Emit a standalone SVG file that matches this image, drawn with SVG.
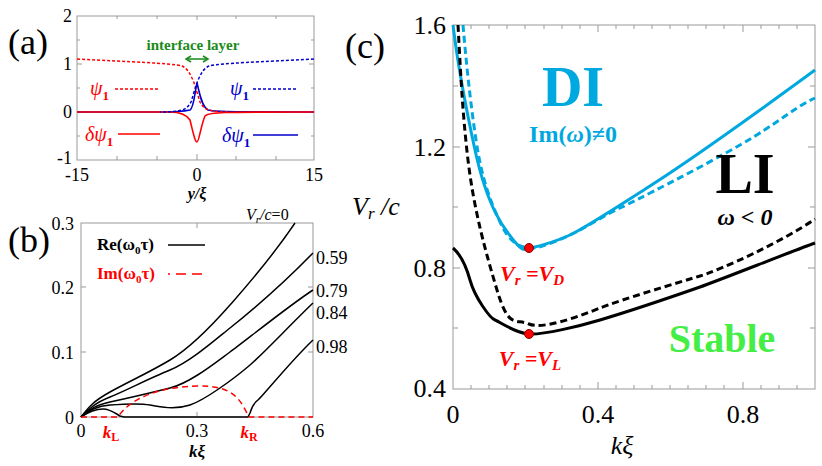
<svg xmlns="http://www.w3.org/2000/svg" width="822" height="466" viewBox="0 0 822 466" font-family="Liberation Serif, Times New Roman, DejaVu Serif, serif">
<style>
text{font-family:"Liberation Serif","Times New Roman","DejaVu Serif",serif}
.fr{fill:none;stroke:#999;stroke-width:1}
.tk{stroke:#999;stroke-width:1}
.t{font-size:18px;fill:#000}
.tc{font-size:26px;fill:#000}
.c{fill:none;stroke-linejoin:round;stroke-linecap:butt}
</style>
<rect width="822" height="466" fill="#fff"/>
<g id="panel-a">
<rect class="fr" x="77" y="16" width="237" height="144"/>
<path class="tk" d="M77,64h5M77,112h5M77,136h3M77,88h3M77,40h3M314,64h-5M314,112h-5M314,40h-3M314,88h-3M314,136h-3M117,160v-4M157,160v-4M197,160v-6M236,160v-4M276,160v-4M197,16v4M117,16v3M157,16v3M236,16v3M276,16v3"/>
<text class="t" x="72" y="22" text-anchor="end">2</text>
<text class="t" x="72" y="70" text-anchor="end">1</text>
<text class="t" x="72" y="118" text-anchor="end">0</text>
<text class="t" x="72" y="164" text-anchor="end">-1</text>
<text class="t" x="77" y="181" text-anchor="middle">-15</text>
<text class="t" x="197" y="181" text-anchor="middle">0</text>
<text class="t" x="314" y="181" text-anchor="middle">15</text>
<text x="197" y="199" font-size="16" font-style="italic" font-weight="bold" text-anchor="middle">y/ξ</text>
<text x="8" y="54" font-size="36">(a)</text>
<text x="193" y="50" font-size="15" font-weight="bold" fill="#1a8a1a" text-anchor="middle">interface layer</text>
<path d="M187,59h20" stroke="#1a8a1a" stroke-width="1.5"/>
<path d="M191,56l-5,3l5,3M203,56l5,3l-5,3" fill="none" stroke="#1a8a1a" stroke-width="1.5"/>
<path class="c" d="M77,112H165C178,112 185,111 190,110C194,108 195,90 197,83C199,90 201,106 208,110C216,112 240,112 314,112" stroke="#0000cc" stroke-width="1.6"/>
<path class="c" d="M77,112H170C180,112 186,114 190,120C193,132 195,142 197,142C199,142 201,125 205,116C209,112 220,112 314,112" stroke="#ff0000" stroke-width="1.6"/>
<path class="c" d="M77,59C130,62 170,63 182,66C192,70 196,90 200,102C204,110 210,112 230,112" stroke="#ff0000" stroke-width="1.5" stroke-dasharray="3,2"/>
<path class="c" d="M314,59C261,62 221,63 209,66C199,70 195,90 191,102C187,110 181,112 160,112" stroke="#0000cc" stroke-width="1.5" stroke-dasharray="3,2"/>
<text x="90" y="95" font-size="20" font-style="italic" fill="#ff0000">ψ<tspan font-size="13" font-style="normal" font-weight="bold" dy="5">1</tspan></text>
<path d="M115,89h45" stroke="#ff0000" stroke-width="1.5" stroke-dasharray="3,2"/>
<text x="85" y="141" font-size="20" font-style="italic" fill="#ff0000">δψ<tspan font-size="13" font-style="normal" font-weight="bold" dy="5">1</tspan></text>
<path d="M118,134h42" stroke="#ff0000" stroke-width="1.5"/>
<text x="230" y="95" font-size="20" font-style="italic" fill="#0000cc">ψ<tspan font-size="13" font-style="normal" font-weight="bold" dy="5">1</tspan></text>
<path d="M253,89h45" stroke="#0000cc" stroke-width="1.5" stroke-dasharray="3,2"/>
<text x="222" y="142" font-size="20" font-style="italic" fill="#0000cc">δψ<tspan font-size="13" font-style="normal" font-weight="bold" dy="5">1</tspan></text>
<path d="M253,135h45" stroke="#0000cc" stroke-width="1.5"/>
</g>
<g id="panel-b">
<rect class="fr" x="81" y="223" width="232" height="194"/>
<path class="tk" d="M81,352h5M81,287h5M313,352h-5M313,287h-5M197,417v-5M197,223v5"/>
<text class="t" x="74" y="230" text-anchor="end">0.3</text>
<text class="t" x="74" y="294" text-anchor="end">0.2</text>
<text class="t" x="74" y="359" text-anchor="end">0.1</text>
<text class="t" x="74" y="424" text-anchor="end">0</text>
<text class="t" x="81" y="437" text-anchor="middle">0</text>
<text class="t" x="197" y="437" text-anchor="middle">0.3</text>
<text class="t" x="313" y="437" text-anchor="middle">0.6</text>
<text x="111" y="438" font-size="17" font-weight="bold" font-style="italic" fill="#ff0000" text-anchor="middle">k<tspan font-size="12" font-style="normal" dy="3">L</tspan></text>
<text x="249" y="438" font-size="17" font-weight="bold" font-style="italic" fill="#ff0000" text-anchor="middle">k<tspan font-size="12" font-style="normal" dy="3">R</tspan></text>
<text x="197" y="457" font-size="17" font-weight="bold" font-style="italic" text-anchor="middle">kξ</text>
<text x="8" y="252" font-size="36">(b)</text>
<text x="97" y="250" font-size="17" font-weight="bold">Re(ω<tspan font-size="11" dy="4">0</tspan><tspan dy="-4">τ)</tspan></text>
<path d="M168,245h37" stroke="#000" stroke-width="1.5"/>
<text x="97" y="279" font-size="17" font-weight="bold" fill="#ff0000">Im(ω<tspan font-size="11" dy="4">0</tspan><tspan dy="-4">τ)</tspan></text>
<path d="M168,274h2M176,274h10M192,274h10" stroke="#ff0000" stroke-width="1.5"/>
<g class="c" stroke="#000" stroke-width="1.5">
<path d="M81,417C88,408 92,402 110,392S150,372 170,360S215,322 230,305S270,260 295,223"/>
<path d="M81,417C90,408 95,403 110,397S150,378 170,370S215,340 230,328S275,292 313,253"/>
<path d="M81,417C90,409 96,405 110,402S150,393 170,388S215,363 230,352S290,305 313,290"/>
<path d="M81,417C90,410 97,406 110,405S140,403 150,405S175,410 190,405S235,378 250,365S290,325 313,303"/>
<path d="M81,417C90,411 96,409 103,409S115,413 120,416L124,417H248L250,413C252,406 254,403 258,400S290,362 313,340"/>
</g>
<path class="c" d="M81,417H118C130,398 160,387 197,386S240,400 248,415L249,417H313" stroke="#ff0000" stroke-width="1.5" stroke-dasharray="6,4"/>
<text x="246" y="220" font-size="16"><tspan font-style="italic">V<tspan font-size="11" dy="3">r</tspan><tspan dy="-3">/c</tspan></tspan>=0</text>
<text class="t" x="316" y="264">0.59</text>
<text class="t" x="316" y="297">0.79</text>
<text class="t" x="316" y="319">0.84</text>
<text class="t" x="316" y="353">0.98</text>
</g>
<g id="panel-c">
<rect class="fr" x="453" y="25" width="362" height="364"/>
<path class="tk" d="M453,86h5M453,147h7M453,207h5M453,268h7M453,328h5M815,86h-5M815,147h-7M815,207h-5M815,268h-7M815,328h-5M471,389v-4M489,389v-4M507,389v-4M525,389v-4M544,389v-4M562,389v-4M580,389v-4M598,389v-7M616,389v-4M634,389v-4M652,389v-4M670,389v-4M688,389v-4M706,389v-4M724,389v-4M743,389v-7M761,389v-4M779,389v-4M797,389v-4M471,25v4M489,25v4M507,25v4M525,25v4M544,25v4M562,25v4M580,25v4M598,25v7M616,25v4M634,25v4M652,25v4M670,25v4M688,25v4M706,25v4M724,25v4M743,25v7M761,25v4M779,25v4M797,25v4"/>
<text class="tc" x="446" y="34" text-anchor="end">1.6</text>
<text class="tc" x="446" y="156" text-anchor="end">1.2</text>
<text class="tc" x="446" y="277" text-anchor="end">0.8</text>
<text class="tc" x="446" y="397" text-anchor="end">0.4</text>
<text class="tc" x="453" y="423" text-anchor="middle">0</text>
<text class="tc" x="598" y="423" text-anchor="middle">0.4</text>
<text class="tc" x="743" y="423" text-anchor="middle">0.8</text>
<text x="622" y="454" font-size="26" font-style="italic" text-anchor="middle">kξ</text>
<text x="352" y="215" font-size="26" font-style="italic">V<tspan font-size="17" dy="4">r</tspan><tspan dy="-4"> /c</tspan></text>
<text x="345" y="58" font-size="36">(c)</text>
<g class="c" stroke-width="3">
<path stroke="#00a8e0" d="M453,25C456,50 462,90 475,150S505,230 515,242S525,248 529,248S555,242 570,235S625,202 650,186S740,125 815,70"/>
<path stroke="#00a8e0" stroke-dasharray="7,4" d="M463,25C466,60 470,100 476,140S490,200 500,222S520,247 529,248S555,242 570,235S605,215 620,208S700,168 740,145S790,110 815,98"/>
<path stroke="#000" stroke-dasharray="7,4" d="M458,25C460,60 462,110 468,160S485,250 497,290S515,318 529,324S580,316 600,308S680,282 700,276S780,243 815,219"/>
<path stroke="#000" d="M453,248C460,254 465,262 470,280S490,318 495,320S515,333 529,334S580,326 600,320S680,294 700,287S790,252 815,243"/>
</g>
<circle cx="529" cy="248" r="4.5" fill="#ff0000" stroke="#800" stroke-width="1"/>
<circle cx="529" cy="334" r="4.5" fill="#ff0000" stroke="#800" stroke-width="1"/>
<text x="573" y="106" font-size="56" font-weight="bold" fill="#00a8e0" text-anchor="middle">DI</text>
<text x="573" y="142" font-size="24" font-weight="bold" fill="#00a8e0" text-anchor="middle">Im(<tspan font-style="italic">ω</tspan>)≠0</text>
<text x="745" y="193" font-size="56" font-weight="bold" fill="#000" text-anchor="middle">LI</text>
<text x="745" y="225" font-size="24" font-weight="bold" font-style="italic" text-anchor="middle">ω &lt; 0</text>
<text x="532" y="281" font-size="22" font-weight="bold" font-style="italic" fill="#ff0000" text-anchor="middle">V<tspan font-size="15" dy="4">r</tspan><tspan dy="-4"> =V</tspan><tspan font-size="15" dy="4">D</tspan></text>
<text x="530" y="366" font-size="22" font-weight="bold" font-style="italic" fill="#ff0000" text-anchor="middle">V<tspan font-size="15" dy="4">r</tspan><tspan dy="-4"> =V</tspan><tspan font-size="15" dy="4">L</tspan></text>
<text x="722" y="352" font-size="40" font-weight="bold" fill="#44ee44" text-anchor="middle">Stable</text>
</g>
</svg>
